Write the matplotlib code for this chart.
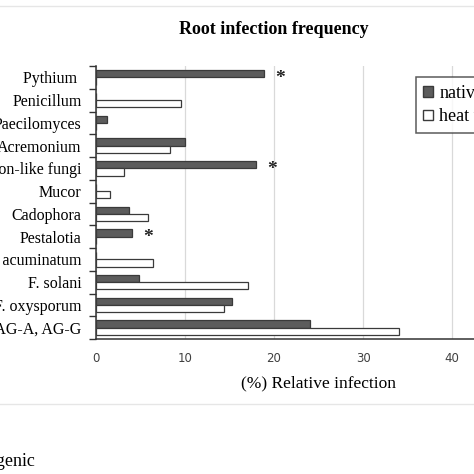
import matplotlib
matplotlib.use('Agg')
import matplotlib.pyplot as plt
import matplotlib.patches as mpatches
import matplotlib.lines as mlines
import numpy as np

# data
categories = ['Pythium ', 'Penicillum', 'Paecilomyces', 'Acremonium',
              'Cylindrocarpon-like fungi', 'Mucor', 'Cadophora', 'Pestalotia',
              'F. acuminatum', 'F. solani', 'F. oxysporum', 'Rhizoctonia AG-A, AG-G']
native = [18.9, 0, 1.25, 10.0, 18.0, 0, 3.7, 4.1, 0, 4.9, 15.3, 24.0]
heat = [0, 9.55, 0, 8.3, 3.2, 1.6, 5.85, 0, 6.5, 17.1, 14.4, 34.0]
significant = [True, False, False, False, True, False, False, True, False, False, False, False]
xticks = [0, 10, 20, 30, 40]

serif = 'Liberation Serif'
fig = plt.figure(figsize=(4.74, 4.74), dpi=100)
ax = fig.add_axes([95.5/474, 1-339/474, 446/474, 273/474])

y = np.arange(len(categories))
bh = 0.32
ax.barh(y-bh/2, native, height=bh, color='#5c5c5c', edgecolor='#3a3a3a', linewidth=0.9, zorder=3)
ax.barh(y+bh/2, heat, height=bh, color='white', edgecolor='#3a3a3a', linewidth=0.9, zorder=3)

for i in range(len(categories)):
    if significant[i]:
        ax.text(native[i]+1.8, y[i]-bh/2+0.22, '*', ha='center', va='center',
                fontsize=14, fontweight='bold', family=serif, color='#222222')

ax.set_xlim(0, 50)
ax.set_ylim(len(categories)-0.5, -0.5)
ax.set_xticks(xticks)
ax.set_xticklabels([str(t) for t in xticks], family='DejaVu Sans', fontsize=8.5, color='#404040')
ax.set_yticks(y)
ax.set_yticklabels(categories, family=serif, fontsize=11.5)
ax.set_yticks(np.arange(len(categories)+1)-0.5, minor=True)
ax.tick_params(axis='y', which='major', length=0, pad=10)
ax.tick_params(axis='y', which='minor', length=5, width=1, color='#333333')
ax.tick_params(axis='x', length=0, pad=9)
ax.grid(axis='x', color='#d9d9d9', linewidth=0.9, zorder=0)
for s in ['top', 'right']:
    ax.spines[s].set_visible(False)
ax.spines['left'].set_color('#333333')
ax.spines['bottom'].set_color('#333333')
ax.spines['left'].set_linewidth(1.1)
ax.spines['bottom'].set_linewidth(1.1)

ax.set_xlabel('(%) Relative infection', family=serif, fontsize=12.5, labelpad=8)

fig.text(273.5/474, 1-30/474, 'Root infection frequency', ha='center', va='center',
         family=serif, fontsize=13, fontweight='bold')

h1 = mpatches.Patch(facecolor='#5c5c5c', edgecolor='#3a3a3a', label='native')
h2 = mpatches.Patch(facecolor='white', edgecolor='#3a3a3a', label='heat treated')
leg = fig.legend(handles=[h1, h2], loc='upper left', bbox_to_anchor=(415.7/474, 1-77.3/474),
                 prop={'family': serif, 'size': 13}, frameon=True, fancybox=False,
                 handlelength=0.55, handleheight=0.55, handletextpad=0.35,
                 labelspacing=0.38, borderpad=0.4, borderaxespad=0)
leg.get_frame().set_edgecolor('#333333')
leg.get_frame().set_linewidth(1.1)

# page lines and caption fragment
fig.add_artist(mlines.Line2D([0, 1], [1-6/474, 1-6/474], color='#e6e6e6', linewidth=1))
fig.add_artist(mlines.Line2D([0, 1], [1-404/474, 1-404/474], color='#e6e6e6', linewidth=1))
fig.text(35/474, 1-461/474, 'Pathogenic', ha='right', va='center', family=serif, fontsize=13)

plt.savefig('out.png', dpi=100)
